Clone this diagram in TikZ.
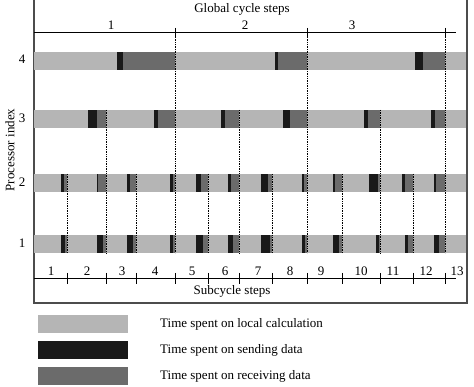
\documentclass[tikz,border=0pt]{standalone}
\usepackage{fontspec}
\setmainfont{Liberation Serif}
\usepackage{tikz}
\usetikzlibrary{positioning}
\definecolor{calccol}{gray}{0.71}
\definecolor{sendcol}{gray}{0.1}
\definecolor{recvcol}{gray}{0.42}
\tikzset{
    x=1pt, y=-1pt, font=\fontsize{13}{15}\selectfont,
    calcbar/.style ={fill=calccol},
    sendbar/.style ={fill=sendcol},
    recvbar/.style ={fill=recvcol},
    sync/.style ={densely dotted, line width=0.7pt},
    axis/.style ={line width=0.8pt},
    legbox/.style ={minimum width=90pt, minimum height=18pt, inner sep=0pt},
    lbl/.style ={inner sep=0pt}
}
\begin{document}
\begin{tikzpicture}
        \useasboundingbox (0,0) rectangle (474,387);
        \draw[line width=1.3pt, black!70] (34,-3) rectangle (467,303);

        % processor 4
        \fill[calcbar] (34,52) rectangle (466,70);
        \foreach \s/\r/\e in {117/123/175, 275/278/307, 415/423/445} {
            \fill[sendbar] (\s,52) rectangle (\r,70);
            \fill[recvbar] (\r,52) rectangle (\e,70);
        }
        % processor 3
        \fill[calcbar] (34,110) rectangle (466,128);
        \foreach \s/\r/\e in {88/97/106, 154/158/175, 221/225/239,
                283/290/307, 364/368/380, 431/435/445} {
            \fill[sendbar] (\s,110) rectangle (\r,128);
            \fill[recvbar] (\r,110) rectangle (\e,128);
        }
        % processor 2
        \fill[calcbar] (34,174) rectangle (466,192);
        \foreach \s/\r/\e in {61/64/67, 97/98/106, 127/130/136, 170/173/175,
                196/201/208, 228/231/239, 261/268/272, 302/304/307,
                333/335/342, 369/378/380, 402/405/413, 434/436/445} {
            \fill[sendbar] (\s,174) rectangle (\r,192);
            \fill[recvbar] (\r,174) rectangle (\e,192);
        }
        % processor 1
        \fill[calcbar] (34,235) rectangle (466,253);
        \foreach \s/\r/\e in {61/65/67, 97/103/106, 127/133/136, 170/173/175,
                196/203/208, 228/233/239, 261/270/272, 302/305/307,
                333/339/342, 376/379/380, 405/408/413, 434/439/445} {
            \fill[sendbar] (\s,235) rectangle (\r,253);
            \fill[recvbar] (\r,235) rectangle (\e,253);
        }

        % synchronisation lines
        \foreach \x in {175,307,445} \draw[sync] (\x,32) -- (\x,253);
        \foreach \x in {106,239,380} \draw[sync] (\x,110) -- (\x,253);
        \foreach \x in {67,136,208,272,342,413} \draw[sync] (\x,174) -- (\x,253);

        % global cycle axis
        \draw[axis] (34,32) -- (456,32);
        \foreach \x in {175,307,445} \draw[axis] (\x,28) -- (\x,37);
        \foreach \n/\x in {1/111, 2/245, 3/352} \node[lbl] (g\n) at (\x,25) {\n};
        \node[lbl] (gtitle) at (242,9) {Global cycle steps};

        % subcycle axis
        \draw[axis] (34,278) -- (456,278);
        \foreach \x in {67,106,136,175,208,239,272,307,342,380,413,445}
            \draw[axis] (\x,273) -- (\x,284);
        \foreach \n/\x in {1/51, 2/87, 3/122, 4/155, 5/192, 6/225, 7/258,
                8/290, 9/321, 10/361, 11/393, 12/426, 13/457}
            \node[lbl] (s\n) at (\x,271) {\n};
        \node[lbl] (stitle) at (232,291) {Subcycle steps};

        % processor index
        \foreach \n/\y in {4/59, 3/118, 2/182, 1/243} \node[lbl] (p\n) at (22,\y) {\n};
        \node[lbl, rotate=90] (ptitle) at (10,150) {Processor index};

        % legend
        \node[legbox, calcbar] (lcalc) at (83,324) {};
        \node[legbox, sendbar] (lsend) at (83,350) {};
        \node[legbox, recvbar] (lrecv) at (83,376) {};
        \node[lbl, anchor=west] (tcalc) at (160,324) {Time spent on local calculation};
        \node[lbl, anchor=west] (tsend) at (160,350) {Time spent on sending data};
        \node[lbl, anchor=west] (trecv) at (160,376) {Time spent on receiving data};
\end{tikzpicture}
\end{document}
